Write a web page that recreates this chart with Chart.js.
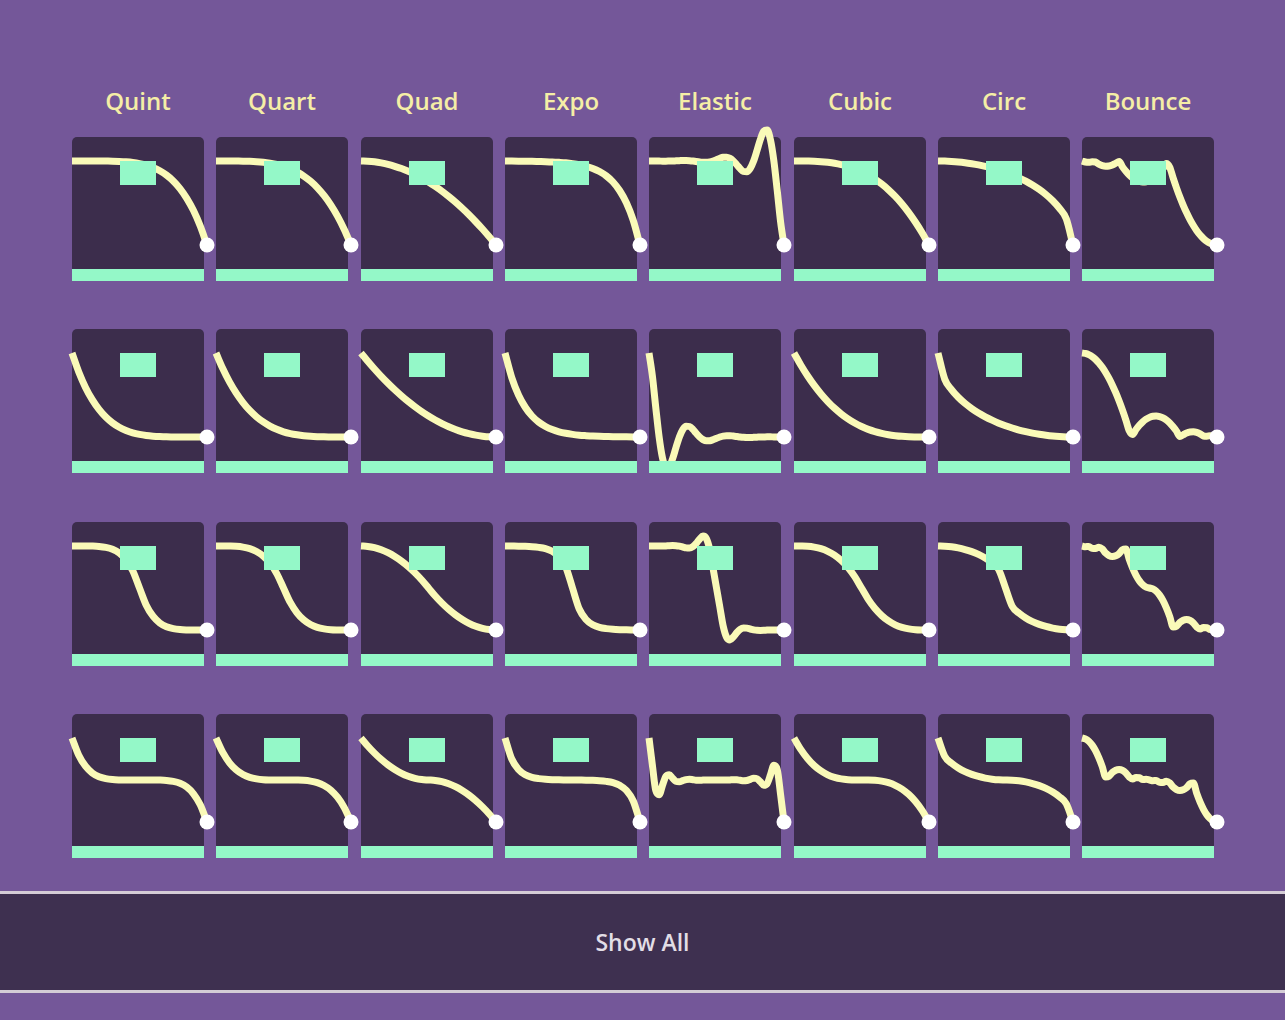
<!DOCTYPE html>
<html>
<head>
<meta charset="utf-8">
<script src="https://cdn.jsdelivr.net/npm/chart.js@4.4.0/dist/chart.umd.min.js"></script>
<style>
  html, body { margin: 0; padding: 0; }
  body { width: 1285px; height: 1020px; background: #745799; position: relative; overflow: hidden; font-family: 'Open Sans', sans-serif; }
  .title { position: absolute; top: 89px; width: 144px; text-align: center; color: #f5eea6; font-size: 24px; line-height: 24px; font-weight: 600; }
  .panel { position: absolute; width: 132px; height: 144px; background: #3c2d4c; border-radius: 5px 5px 0 0; z-index: 0; }
  .plot { position: absolute; z-index: 1; }
  .marker { position: absolute; width: 36px; height: 24px; background: #94f8c8; z-index: 2; }
  .floor { position: absolute; width: 132px; height: 12px; background: #94f8c8; z-index: 2; }
  #showAll { position: absolute; left: 0; top: 891px; width: 1285px; height: 96px; background: #3e3050; border-top: 3px solid #d4ccd6; border-bottom: 3px solid #d4ccd6; color: #e2dee6; font-size: 23px; line-height: 96px; text-align: center; font-weight: 600; }
</style>
</head>
<body>
<div id="showAll">Show All</div>
<script>
const easeNames = ['Quint', 'Quart', 'Quad', 'Expo', 'Elastic', 'Cubic', 'Circ', 'Bounce'];
const easeModes = ['In', 'Out', 'InOut', 'OutIn'];

const steps21 = [0, 0.05, 0.1, 0.15, 0.2, 0.25, 0.3, 0.35, 0.4, 0.45, 0.5, 0.55, 0.6, 0.65, 0.7, 0.75, 0.8, 0.85, 0.9, 0.95, 1];
const steps41 = [0, 0.025, 0.05, 0.075, 0.1, 0.125, 0.15, 0.175, 0.2, 0.225, 0.25, 0.275, 0.3, 0.325, 0.35, 0.375, 0.4, 0.425, 0.45, 0.475, 0.5,
  0.525, 0.55, 0.575, 0.6, 0.625, 0.65, 0.675, 0.7, 0.725, 0.75, 0.775, 0.8, 0.825, 0.85, 0.875, 0.9, 0.925, 0.95, 0.975, 1];

const quintIn = [0, 0, 0, 0, 0, 0.001, 0.002, 0.005, 0.01, 0.018, 0.031, 0.05, 0.078, 0.116, 0.168, 0.237, 0.328, 0.444, 0.59, 0.774, 1];
const quintOut = [0, 0.226, 0.41, 0.556, 0.672, 0.763, 0.832, 0.884, 0.922, 0.95, 0.969, 0.982, 0.99, 0.995, 0.998, 0.999, 1, 1, 1, 1, 1];
const quintInOut = [0, 0, 0, 0.001, 0.005, 0.016, 0.039, 0.084, 0.164, 0.295, 0.5, 0.705, 0.836, 0.916, 0.961, 0.984, 0.995, 0.999, 1, 1, 1];
const quintOutIn = [0, 0.205, 0.336, 0.416, 0.461, 0.484, 0.495, 0.499, 0.5, 0.5, 0.5, 0.5, 0.5, 0.501, 0.505, 0.516, 0.539, 0.584, 0.664, 0.795, 1];

const quartIn = [0, 0, 0, 0.001, 0.002, 0.004, 0.008, 0.015, 0.026, 0.041, 0.063, 0.092, 0.13, 0.179, 0.24, 0.316, 0.41, 0.522, 0.656, 0.815, 1];
const quartOut = [0, 0.185, 0.344, 0.478, 0.59, 0.684, 0.76, 0.821, 0.87, 0.908, 0.938, 0.959, 0.974, 0.985, 0.992, 0.996, 0.998, 0.999, 1, 1, 1];
const quartInOut = [0, 0, 0.001, 0.004, 0.013, 0.031, 0.065, 0.12, 0.205, 0.328, 0.5, 0.672, 0.795, 0.88, 0.935, 0.969, 0.987, 0.996, 0.999, 1, 1];
const quartOutIn = [0, 0.172, 0.295, 0.38, 0.435, 0.469, 0.487, 0.496, 0.499, 0.5, 0.5, 0.5, 0.501, 0.504, 0.513, 0.531, 0.565, 0.62, 0.705, 0.828, 1];

const quadIn = [0, 0.003, 0.01, 0.023, 0.04, 0.063, 0.09, 0.123, 0.16, 0.203, 0.25, 0.303, 0.36, 0.423, 0.49, 0.563, 0.64, 0.723, 0.81, 0.903, 1];
const quadOut = [0, 0.098, 0.19, 0.278, 0.36, 0.438, 0.51, 0.578, 0.64, 0.698, 0.75, 0.798, 0.84, 0.878, 0.91, 0.938, 0.96, 0.978, 0.99, 0.998, 1];
const quadInOut = [0, 0.005, 0.02, 0.045, 0.08, 0.125, 0.18, 0.245, 0.32, 0.405, 0.5, 0.595, 0.68, 0.755, 0.82, 0.875, 0.92, 0.955, 0.98, 0.995, 1];
const quadOutIn = [0, 0.095, 0.18, 0.255, 0.32, 0.375, 0.42, 0.455, 0.48, 0.495, 0.5, 0.505, 0.52, 0.545, 0.58, 0.625, 0.68, 0.745, 0.82, 0.905, 1];

const expoIn = [0, 0.001, 0.002, 0.003, 0.004, 0.006, 0.008, 0.011, 0.016, 0.022, 0.031, 0.044, 0.063, 0.088, 0.125, 0.177, 0.25, 0.354, 0.5, 0.707, 1];
const expoOut = [0, 0.293, 0.5, 0.646, 0.75, 0.823, 0.875, 0.912, 0.938, 0.956, 0.969, 0.978, 0.984, 0.989, 0.992, 0.994, 0.996, 0.997, 0.998, 0.999, 1];
const expoInOut = [0, 0.001, 0.002, 0.004, 0.008, 0.016, 0.031, 0.063, 0.125, 0.25, 0.5, 0.75, 0.875, 0.938, 0.969, 0.984, 0.992, 0.996, 0.998, 0.999, 1];
const expoOutIn = [0, 0.25, 0.375, 0.438, 0.469, 0.484, 0.492, 0.496, 0.498, 0.499, 0.5, 0.501, 0.502, 0.504, 0.508, 0.516, 0.531, 0.563, 0.625, 0.75, 1];

const cubicIn = [0, 0, 0.001, 0.003, 0.008, 0.016, 0.027, 0.043, 0.064, 0.091, 0.125, 0.166, 0.216, 0.275, 0.343, 0.422, 0.512, 0.614, 0.729, 0.857, 1];
const cubicOut = [0, 0.143, 0.271, 0.386, 0.488, 0.578, 0.657, 0.725, 0.784, 0.834, 0.875, 0.909, 0.936, 0.957, 0.973, 0.984, 0.992, 0.997, 0.999, 1, 1];
const cubicInOut = [0, 0.001, 0.004, 0.014, 0.032, 0.063, 0.108, 0.172, 0.256, 0.365, 0.5, 0.635, 0.744, 0.828, 0.892, 0.938, 0.968, 0.986, 0.996, 0.999, 1];
const cubicOutIn = [0, 0.136, 0.244, 0.329, 0.392, 0.438, 0.468, 0.487, 0.496, 0.5, 0.5, 0.5, 0.504, 0.514, 0.532, 0.563, 0.608, 0.672, 0.756, 0.865, 1];

const circIn = [0, 0.001, 0.005, 0.011, 0.02, 0.032, 0.046, 0.063, 0.083, 0.107, 0.134, 0.165, 0.2, 0.24, 0.286, 0.339, 0.4, 0.473, 0.564, 0.688, 1];
const circOut = [0, 0.312, 0.436, 0.527, 0.6, 0.661, 0.714, 0.76, 0.8, 0.835, 0.866, 0.893, 0.917, 0.937, 0.954, 0.968, 0.98, 0.989, 0.995, 0.999, 1];
const circInOut = [0, 0.003, 0.01, 0.023, 0.042, 0.067, 0.1, 0.143, 0.2, 0.282, 0.5, 0.718, 0.8, 0.857, 0.9, 0.933, 0.958, 0.977, 0.99, 0.997, 1];
const circOutIn = [0, 0.218, 0.3, 0.357, 0.4, 0.433, 0.458, 0.477, 0.49, 0.498, 0.5, 0.503, 0.51, 0.523, 0.542, 0.567, 0.6, 0.643, 0.7, 0.782, 1];

// elastic and bounce wiggle, so they get the finer 41-step grid
const elasticIn = [0, 0, 0.001, 0.001, 0.002, 0.002, 0.001, 0, -0.002, -0.004, -0.006, -0.006, -0.004, 0, 0.006, 0.011, 0.016, 0.016, 0.011, 0, -0.016,
  -0.032, -0.044, -0.046, -0.031, 0, 0.044, 0.091, 0.125, 0.129, 0.088, 0, -0.125, -0.258, -0.354, -0.368, -0.25, 0, 0.354, 0.728, 1];
const elasticOut = [0, 0.272, 0.646, 1, 1.25, 1.364, 1.354, 1.258, 1.125, 1, 0.912, 0.871, 0.875, 0.909, 0.956, 1, 1.031, 1.046, 1.044, 1.032, 1.016,
  1, 0.989, 0.984, 0.984, 0.989, 0.994, 1, 1.004, 1.006, 1.006, 1.004, 1.002, 1, 0.999, 0.998, 0.998, 0.999, 0.999, 1, 1];
const elasticInOut = [0, 0, 0.001, 0.001, 0, -0.001, -0.004, -0.005, -0.004, 0.002, 0.012, 0.022, 0.024, 0.008, -0.031, -0.083, -0.118, -0.088, 0.043, 0.271, 0.5,
  0.729, 0.957, 1.088, 1.118, 1.083, 1.031, 0.992, 0.976, 0.978, 0.988, 0.998, 1.004, 1.005, 1.004, 1.001, 1, 0.999, 0.999, 1, 1];
const elasticOutIn = [0, 0.323, 0.625, 0.677, 0.563, 0.456, 0.438, 0.478, 0.516, 0.522, 0.508, 0.495, 0.492, 0.497, 0.502, 0.503, 0.501, 0.5, 0.499, 0.5, 0.5,
  0.501, 0.501, 0.501, 0.499, 0.497, 0.498, 0.503, 0.508, 0.506, 0.492, 0.478, 0.485, 0.522, 0.563, 0.544, 0.438, 0.323, 0.375, 0.677, 1];

const bounceIn = [0, 0.012, 0.016, 0.009, 0.012, 0.038, 0.055, 0.062, 0.06, 0.048, 0.027, 0.006, 0.07, 0.123, 0.167, 0.202, 0.228, 0.243, 0.25, 0.247, 0.234,
  0.212, 0.181, 0.14, 0.09, 0.03, 0.074, 0.201, 0.319, 0.428, 0.527, 0.617, 0.698, 0.768, 0.83, 0.882, 0.924, 0.958, 0.981, 0.995, 1];
const bounceOut = [0, 0.005, 0.019, 0.042, 0.076, 0.118, 0.17, 0.232, 0.302, 0.383, 0.473, 0.572, 0.681, 0.799, 0.926, 0.97, 0.91, 0.86, 0.819, 0.788, 0.766,
  0.753, 0.75, 0.757, 0.772, 0.798, 0.833, 0.877, 0.93, 0.994, 0.973, 0.952, 0.94, 0.938, 0.945, 0.962, 0.988, 0.991, 0.984, 0.988, 1];
const bounceInOut = [0, 0.008, 0.006, 0.028, 0.03, 0.014, 0.035, 0.084, 0.114, 0.125, 0.117, 0.09, 0.045, 0.037, 0.16, 0.264, 0.349, 0.415, 0.462, 0.49, 0.5,
  0.51, 0.538, 0.585, 0.651, 0.737, 0.841, 0.963, 0.955, 0.91, 0.883, 0.875, 0.886, 0.917, 0.965, 0.987, 0.97, 0.973, 0.994, 0.992, 1];
const bounceOutIn = [0, 0.01, 0.038, 0.085, 0.151, 0.237, 0.341, 0.463, 0.455, 0.41, 0.383, 0.375, 0.386, 0.417, 0.465, 0.487, 0.47, 0.473, 0.494, 0.492, 0.5,
  0.508, 0.506, 0.528, 0.53, 0.514, 0.535, 0.584, 0.614, 0.625, 0.617, 0.591, 0.545, 0.537, 0.66, 0.764, 0.849, 0.915, 0.962, 0.991, 1];

const curves = {
  Quint: [quintIn, quintOut, quintInOut, quintOutIn],
  Quart: [quartIn, quartOut, quartInOut, quartOutIn],
  Quad: [quadIn, quadOut, quadInOut, quadOutIn],
  Expo: [expoIn, expoOut, expoInOut, expoOutIn],
  Elastic: [elasticIn, elasticOut, elasticInOut, elasticOutIn],
  Cubic: [cubicIn, cubicOut, cubicInOut, cubicOutIn],
  Circ: [circIn, circOut, circInOut, circOutIn],
  Bounce: [bounceIn, bounceOut, bounceInOut, bounceOutIn],
};

const LINE = '#fafab8';
const colX = c => Math.round(72 + c * 144.3);
const rowY = r => Math.round(137 + r * 192.4);

function box(cls, left, top) {
  const d = document.createElement('div');
  d.className = cls;
  d.style.left = left + 'px';
  d.style.top = top + 'px';
  document.body.appendChild(d);
  return d;
}

easeNames.forEach((name, c) => {
  const t = box('title', colX(c) - 6, 89);
  t.textContent = name;

  easeModes.forEach((mode, r) => {
    const x0 = colX(c), y0 = rowY(r);
    box('panel', x0, y0);
    box('marker', x0 + 48, y0 + 24);
    box('floor', x0, y0 + 132);

    const cv = document.createElement('canvas');
    cv.className = 'plot';
    cv.width = 162;
    cv.height = 174;
    cv.style.left = (x0 - 12) + 'px';
    cv.style.top = (y0 - 24) + 'px';
    document.body.appendChild(cv);

    const ys = curves[name][r];
    const xs = ys.length === 41 ? steps41 : steps21;
    new Chart(cv, {
      type: 'line',
      data: {
        datasets: [{
          label: name + ' ' + mode,
          data: xs.map((x, i) => ({ x: x, y: ys[i] })),
          borderColor: LINE,
          borderWidth: 7,
          cubicInterpolationMode: 'monotone',
          pointRadius: ctx => (ctx.dataIndex === ys.length - 1 ? 7.5 : 0),
          pointHoverRadius: 0,
          pointBackgroundColor: '#ffffff',
          pointBorderWidth: 0,
          clip: false,
        }],
      },
      options: {
        responsive: false,
        animation: false,
        events: [],
        devicePixelRatio: 1,
        layout: { padding: 0, autoPadding: false },
        plugins: { legend: { display: false }, tooltip: { enabled: false } },
        scales: {
          x: { type: 'linear', display: false, min: -12 / 135, max: 150 / 135 },
          y: { type: 'linear', display: false, reverse: true, min: -48 / 84, max: 126 / 84 },
        },
      },
    });
  });
});
</script>
</body>
</html>
